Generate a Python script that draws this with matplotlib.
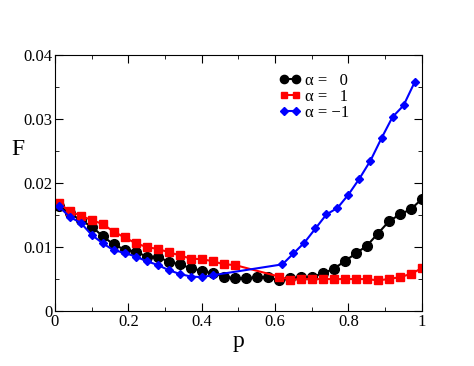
import matplotlib
matplotlib.use('Agg')
import matplotlib.pyplot as plt
from matplotlib.ticker import MultipleLocator

# data
p_a0 = [0.01, 0.04, 0.07, 0.10, 0.13, 0.16, 0.19, 0.22, 0.25, 0.28, 0.31, 0.34,
        0.37, 0.40, 0.43, 0.46, 0.49, 0.52, 0.55, 0.58, 0.61, 0.64, 0.67, 0.70,
        0.73, 0.76, 0.79, 0.82, 0.85, 0.88, 0.91, 0.94, 0.97, 1.00]
F_a0 = [0.0164, 0.0153, 0.0142, 0.0132, 0.0117, 0.0104, 0.0096, 0.0093, 0.0085,
        0.0085, 0.0077, 0.0073, 0.0067, 0.0063, 0.0059, 0.0054, 0.0051, 0.0051,
        0.0053, 0.0053, 0.0048, 0.0051, 0.0053, 0.0053, 0.0059, 0.0066, 0.0078,
        0.0090, 0.0102, 0.0121, 0.0140, 0.0151, 0.0159, 0.0175]

p_a1 = [0.01, 0.04, 0.07, 0.10, 0.13, 0.16, 0.19, 0.22, 0.25, 0.28, 0.31, 0.34,
        0.37, 0.40, 0.43, 0.46, 0.49, 0.61, 0.64, 0.67, 0.70, 0.73, 0.76, 0.79,
        0.82, 0.85, 0.88, 0.91, 0.94, 0.97, 1.00]
F_a1 = [0.0169, 0.0156, 0.0149, 0.0142, 0.0136, 0.0124, 0.0115, 0.0106, 0.0100,
        0.0097, 0.0092, 0.0087, 0.0082, 0.0081, 0.0078, 0.0073, 0.0072, 0.0054,
        0.0049, 0.0050, 0.0050, 0.0050, 0.0050, 0.0050, 0.0050, 0.0050, 0.0048,
        0.0050, 0.0053, 0.0058, 0.0067]

p_am1 = [0.01, 0.04, 0.07, 0.10, 0.13, 0.16, 0.19, 0.22, 0.25, 0.28, 0.31, 0.34,
         0.37, 0.40, 0.43, 0.62, 0.65, 0.68, 0.71, 0.74, 0.77, 0.80, 0.83, 0.86,
         0.89, 0.92, 0.95, 0.98]
F_am1 = [0.0164, 0.0147, 0.0138, 0.0119, 0.0106, 0.0095, 0.0091, 0.0085, 0.0078,
         0.0072, 0.0064, 0.0058, 0.0054, 0.0053, 0.0056, 0.0073, 0.0090, 0.0107,
         0.0129, 0.0151, 0.0161, 0.0182, 0.0207, 0.0235, 0.0270, 0.0303, 0.0321,
         0.0357]

plt.rcParams['font.family'] = ['Liberation Serif', 'DejaVu Serif']

fig = plt.figure(figsize=(4.74, 3.66), dpi=100)
ax = fig.add_axes([0.116, 0.150, 0.774, 0.700])

ax.plot(p_a0, F_a0, '-o', color='black', lw=1.5, ms=7, label='α =   0')
ax.plot(p_a1, F_a1, '-s', color='red', lw=1.5, ms=5.5, label='α =   1')
ax.plot(p_am1, F_am1, '-D', color='blue', lw=1.5, ms=4.5, label='α = \u22121')

ax.set_xlim(0, 1)
ax.set_ylim(0, 0.04)
ax.xaxis.set_minor_locator(MultipleLocator(0.1))
ax.yaxis.set_minor_locator(MultipleLocator(0.005))
ax.set_xticks([0, 0.2, 0.4, 0.6, 0.8, 1.0])
ax.set_xticklabels(['0', '0.2', '0.4', '0.6', '0.8', '1'])
ax.set_yticks([0, 0.01, 0.02, 0.03, 0.04])
ax.set_yticklabels(['0', '0.01', '0.02', '0.03', '0.04'])
ax.tick_params(which='both', direction='in', top=True, right=True, labelsize=12)
ax.tick_params(which='major', length=6, pad=2)
ax.tick_params(which='minor', length=3)

ax.set_xlabel('p', fontsize=17, labelpad=1)
ax.set_ylabel('F', fontsize=17, rotation=0)
ax.yaxis.set_label_coords(-0.10, 0.59)

ax.legend(loc='upper left', bbox_to_anchor=(0.58, 0.975), frameon=False,
          fontsize=12, numpoints=2, handlelength=1.3, handletextpad=0.25,
          labelspacing=0.0, borderpad=0.2, markerscale=0.85)

plt.savefig('out.png', dpi=100)
